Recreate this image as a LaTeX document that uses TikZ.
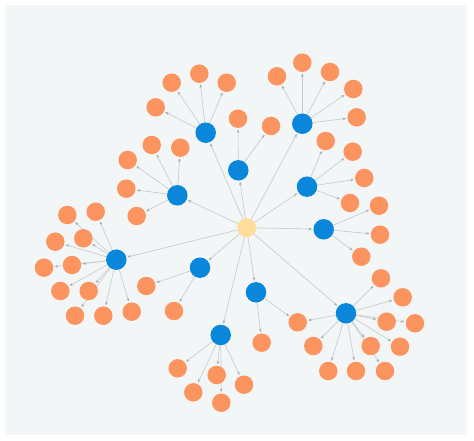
\documentclass[tikz,border=0pt]{standalone}
\usepackage{tikz}
\usetikzlibrary{arrows.meta,backgrounds}

\definecolor{sfondo}{HTML}{F3F6F6}
\definecolor{arancio}{HTML}{FC9460}
\definecolor{blu}{HTML}{0A86DA}
\definecolor{crema}{HTML}{FFDC9C}
\definecolor{filo}{HTML}{C6CBCE}
\definecolor{punta}{HTML}{A4ABAF}

\begin{document}
\begin{tikzpicture}[x=1pt, y=-1pt,
  every node/.style={circle, inner sep=0pt},
  radice/.style={fill=crema, minimum size=19pt},
  hub/.style={fill=blu, minimum size=20.5pt},
  foglia/.style={fill=arancio, minimum size=18.5pt},
  arco/.style={draw=filo, line width=0.65pt, -{Stealth[length=3.5pt,width=2.6pt,color=punta]}, shorten >=1.2pt}]

\useasboundingbox (0,0) rectangle (474,441);

% Sfondo
\begin{scope}[on background layer]
\fill[sfondo] (5,5) rectangle (467,435);
\end{scope}

% Nodo centrale
\node[radice] (c) at (246.7,227.7) {};

% Hub blu
\node[hub] (h1) at (205.7,132.7) {};
\node[hub] (h2) at (238.3,170.3) {};
\node[hub] (h3) at (302.3,123.7) {};
\node[hub] (h4) at (177.3,195.3) {};
\node[hub] (h5) at (307,186.7) {};
\node[hub] (h6) at (323.7,229.3) {};
\node[hub] (h7) at (116.3,259.7) {};
\node[hub] (h8) at (200,267.7) {};
\node[hub] (h9) at (256,292.3) {};
\node[hub] (h10) at (346,313.3) {};
\node[hub] (h11) at (220.7,335) {};

% Foglie di h1
\node[foglia] (h1a) at (155.7,107.3) {};
\node[foglia] (h1b) at (171.7,82.7) {};
\node[foglia] (h1c) at (199.3,73.7) {};
\node[foglia] (h1d) at (226.7,82.7) {};

% Foglie di h2
\node[foglia] (h2a) at (238,118.7) {};
\node[foglia] (h2b) at (271,126) {};

% Foglie di h3
\node[foglia] (h3a) at (277,76.3) {};
\node[foglia] (h3b) at (302.3,62.7) {};
\node[foglia] (h3c) at (330,72) {};
\node[foglia] (h3d) at (353.3,89) {};
\node[foglia] (h3e) at (356.7,117.3) {};

% Foglie di h4
\node[foglia] (h4a) at (151.7,145) {};
\node[foglia] (h4b) at (180.3,147.7) {};
\node[foglia] (h4c) at (127.7,160) {};
\node[foglia] (h4d) at (126.3,188.7) {};
\node[foglia] (h4e) at (136.7,216) {};

% Foglie di h5
\node[foglia] (h5a) at (325.7,141) {};
\node[foglia] (h5b) at (352.7,151.7) {};
\node[foglia] (h5c) at (364.3,178) {};
\node[foglia] (h5d) at (350,203) {};

% Foglie di h6
\node[foglia] (h6a) at (379,205.7) {};
\node[foglia] (h6b) at (380,234.7) {};
\node[foglia] (h6c) at (361.3,256.7) {};

% Foglie di h7
\node[foglia] (h7a) at (67.3,215) {};
\node[foglia] (h7b) at (95.7,211.7) {};
\node[foglia] (h7c) at (55.3,241.7) {};
\node[foglia] (h7d) at (83.3,238.3) {};
\node[foglia] (h7e) at (44,267.7) {};
\node[foglia] (h7f) at (72,265) {};
\node[foglia] (h7g) at (60.3,291) {};
\node[foglia] (h7h) at (88.7,291) {};
\node[foglia] (h7i) at (75,315.7) {};
\node[foglia] (h7j) at (103.3,315.7) {};
\node[foglia] (h7k) at (131.7,311.7) {};

% Foglie di h8
\node[foglia] (h8a) at (146.3,286) {};
\node[foglia] (h8b) at (174,311) {};

% Foglie di h9 (h9a condivisa con h10)
\node[foglia] (h9a) at (297.7,322.3) {};
\node[foglia] (h9b) at (261.7,342.7) {};

% Foglie di h10
\node[foglia] (h10a) at (381,278.3) {};
\node[foglia] (h10b) at (402.7,297.3) {};
\node[foglia] (h10c) at (386.7,321.7) {};
\node[foglia] (h10d) at (415,323.3) {};
\node[foglia] (h10e) at (370.7,346) {};
\node[foglia] (h10f) at (400,346.7) {};
\node[foglia] (h10g) at (313.3,346) {};
\node[foglia] (h10h) at (328.3,371) {};
\node[foglia] (h10i) at (356,371) {};
\node[foglia] (h10j) at (385,371) {};

% Foglie di h11
\node[foglia] (h11a) at (177.7,368.3) {};
\node[foglia] (h11b) at (216.7,375) {};
\node[foglia] (h11c) at (193.3,392.3) {};
\node[foglia] (h11d) at (244,384.7) {};
\node[foglia] (h11e) at (221.3,402.7) {};

% Archi (sotto i nodi)
\begin{scope}[on background layer]
% centro -> hub
\draw[arco] (c) -- (h1);
\draw[arco] (c) -- (h2);
\draw[arco] (c) -- (h3);
\draw[arco] (c) -- (h4);
\draw[arco] (c) -- (h5);
\draw[arco] (c) -- (h6);
\draw[arco] (c) -- (h7);
\draw[arco] (c) -- (h8);
\draw[arco] (c) -- (h9);
\draw[arco] (c) -- (h10);
\draw[arco] (c) -- (h11);

% hub -> foglie
\draw[arco] (h1) -- (h1a);
\draw[arco] (h1) -- (h1b);
\draw[arco] (h1) -- (h1c);
\draw[arco] (h1) -- (h1d);

\draw[arco] (h2) -- (h2a);
\draw[arco] (h2) -- (h2b);

\draw[arco] (h3) -- (h3a);
\draw[arco] (h3) -- (h3b);
\draw[arco] (h3) -- (h3c);
\draw[arco] (h3) -- (h3d);
\draw[arco] (h3) -- (h3e);

\draw[arco] (h4) -- (h4a);
\draw[arco] (h4) -- (h4b);
\draw[arco] (h4) -- (h4c);
\draw[arco] (h4) -- (h4d);
\draw[arco] (h4) -- (h4e);

\draw[arco] (h5) -- (h5a);
\draw[arco] (h5) -- (h5b);
\draw[arco] (h5) -- (h5c);
\draw[arco] (h5) -- (h5d);

\draw[arco] (h6) -- (h6a);
\draw[arco] (h6) -- (h6b);
\draw[arco] (h6) -- (h6c);

\draw[arco] (h7) -- (h7a);
\draw[arco] (h7) -- (h7b);
\draw[arco] (h7) -- (h7c);
\draw[arco] (h7) -- (h7d);
\draw[arco] (h7) -- (h7e);
\draw[arco] (h7) -- (h7f);
\draw[arco] (h7) -- (h7g);
\draw[arco] (h7) -- (h7h);
\draw[arco] (h7) -- (h7i);
\draw[arco] (h7) -- (h7j);
\draw[arco] (h7) -- (h7k);

\draw[arco] (h8) -- (h8a);
\draw[arco] (h8) -- (h8b);

\draw[arco] (h9) -- (h9a);
\draw[arco] (h9) -- (h9b);

\draw[arco] (h10) -- (h9a);
\draw[arco] (h10) -- (h10a);
\draw[arco] (h10) -- (h10b);
\draw[arco] (h10) -- (h10c);
\draw[arco] (h10) -- (h10d);
\draw[arco] (h10) -- (h10e);
\draw[arco] (h10) -- (h10f);
\draw[arco] (h10) -- (h10g);
\draw[arco] (h10) -- (h10h);
\draw[arco] (h10) -- (h10i);
\draw[arco] (h10) -- (h10j);

\draw[arco] (h11) -- (h11a);
\draw[arco] (h11) -- (h11b);
\draw[arco] (h11) -- (h11c);
\draw[arco] (h11) -- (h11d);
\draw[arco] (h11) -- (h11e);
\end{scope}

\end{tikzpicture}
\end{document}
